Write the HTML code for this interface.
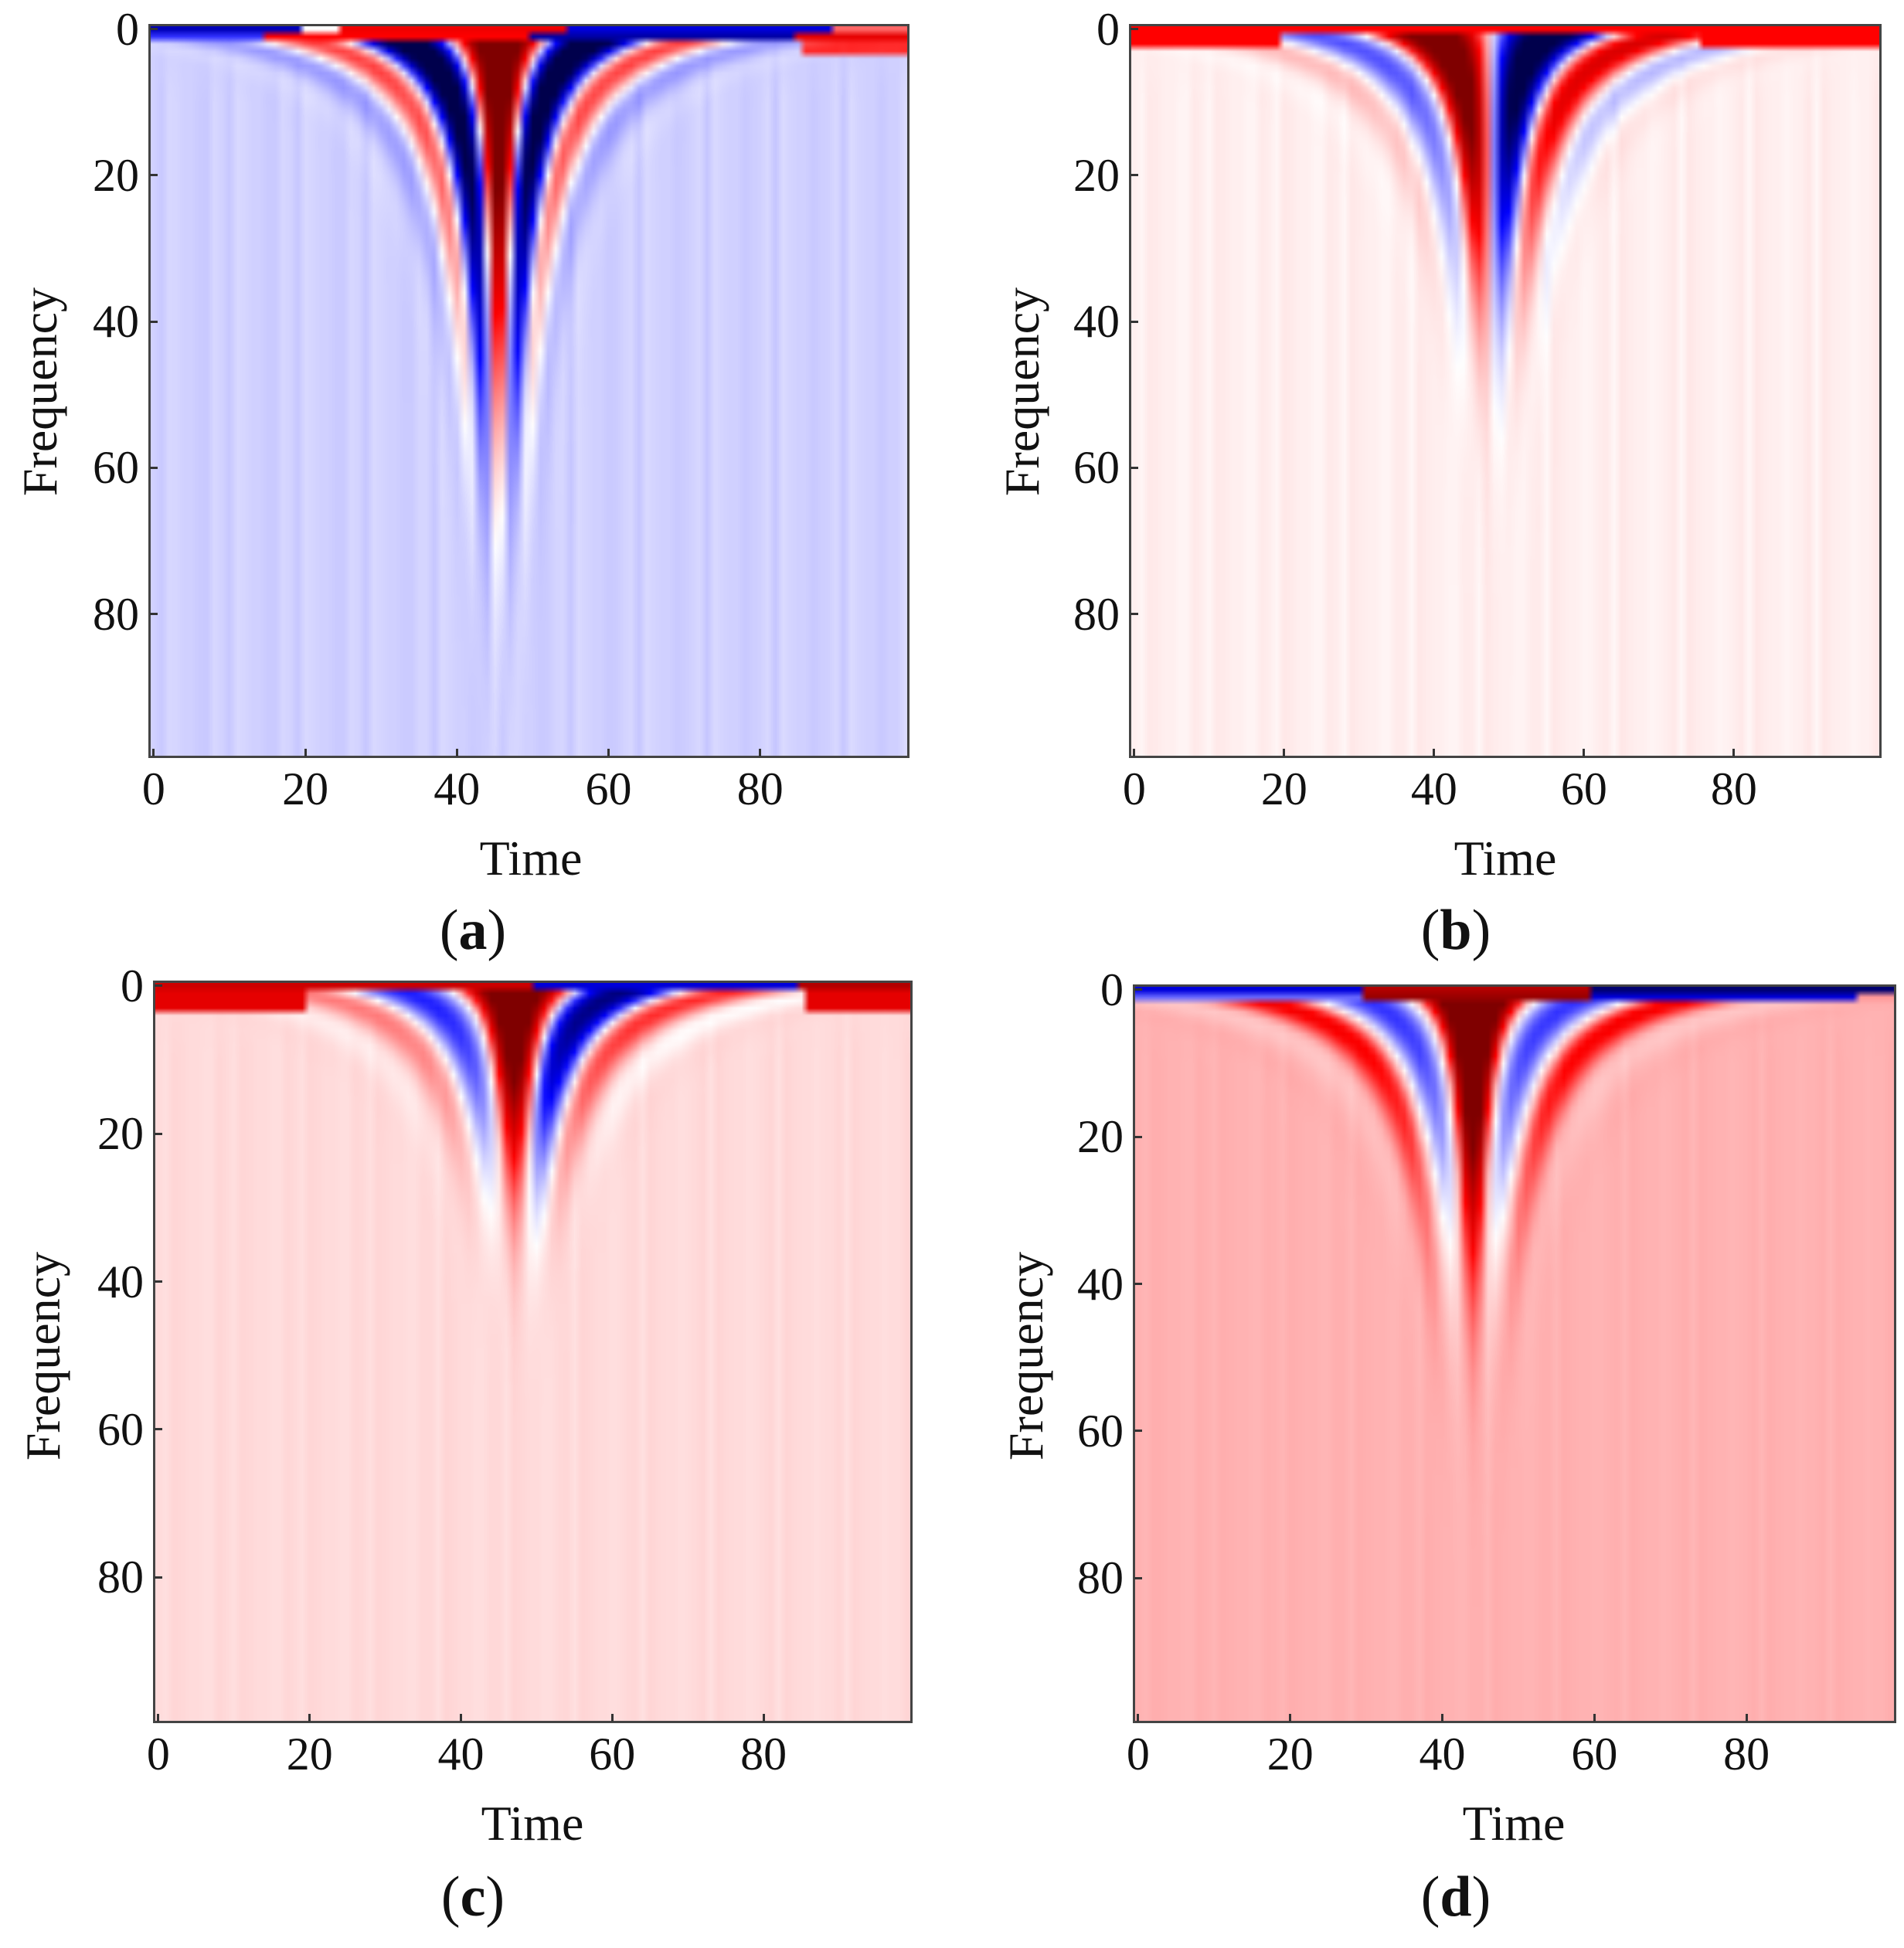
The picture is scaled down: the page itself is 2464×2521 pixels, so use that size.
<!DOCTYPE html>
<html><head><meta charset="utf-8">
<style>
html,body{margin:0;padding:0;background:#fff;}
body{width:2464px;height:2521px;position:relative;overflow:hidden;font-family:"Liberation Serif",serif;color:#111;}
.pl{position:absolute;left:0;top:0;width:2464px;height:2521px;}
canvas{position:absolute;}
.frame{position:absolute;border:3px solid #444;box-sizing:border-box;}
.t{position:absolute;font-size:60px;line-height:1;white-space:nowrap;}
.lab{position:absolute;font-size:64px;line-height:1;white-space:nowrap;transform:translate(-50%,-50%);}
.cap{position:absolute;font-size:74px;line-height:1;white-space:nowrap;transform:translate(-50%,-50%);}
.tk{position:absolute;background:#333;}
</style></head><body>

<div class="pl" id="pa" data-l="194" data-t="33" data-r="1175" data-b="979">
 <span class="t x">0</span><span class="t x">20</span><span class="t x">40</span><span class="t x">60</span><span class="t x">80</span>
 <span class="t y">0</span><span class="t y">20</span><span class="t y">40</span><span class="t y">60</span><span class="t y">80</span>
</div>
<div class="pl" id="pb" data-l="1463" data-t="33" data-r="2433" data-b="979">
 <span class="t x">0</span><span class="t x">20</span><span class="t x">40</span><span class="t x">60</span><span class="t x">80</span>
 <span class="t y">0</span><span class="t y">20</span><span class="t y">40</span><span class="t y">60</span><span class="t y">80</span>
</div>
<div class="pl" id="pc" data-l="200" data-t="1271" data-r="1179" data-b="2228">
 <span class="t x">0</span><span class="t x">20</span><span class="t x">40</span><span class="t x">60</span><span class="t x">80</span>
 <span class="t y">0</span><span class="t y">20</span><span class="t y">40</span><span class="t y">60</span><span class="t y">80</span>
</div>
<div class="pl" id="pd" data-l="1468" data-t="1276" data-r="2452" data-b="2228">
 <span class="t x">0</span><span class="t x">20</span><span class="t x">40</span><span class="t x">60</span><span class="t x">80</span>
 <span class="t y">0</span><span class="t y">20</span><span class="t y">40</span><span class="t y">60</span><span class="t y">80</span>
</div>

<div class="lab" style="left:687px;top:1111px">Time</div>
<div class="lab" style="left:1948px;top:1111px">Time</div>
<div class="lab" style="left:689px;top:2360px">Time</div>
<div class="lab" style="left:1959px;top:2360px">Time</div>
<div class="lab" style="left:52px;top:507px;transform:translate(-50%,-50%) rotate(-90deg)">Frequency</div>
<div class="lab" style="left:1323px;top:507px;transform:translate(-50%,-50%) rotate(-90deg)">Frequency</div>
<div class="lab" style="left:56px;top:1755px;transform:translate(-50%,-50%) rotate(-90deg)">Frequency</div>
<div class="lab" style="left:1328px;top:1755px;transform:translate(-50%,-50%) rotate(-90deg)">Frequency</div>
<div class="cap" style="left:612px;top:1204px">(<b>a</b>)</div>
<div class="cap" style="left:1884px;top:1204px">(<b>b</b>)</div>
<div class="cap" style="left:612px;top:2455px">(<b>c</b>)</div>
<div class="cap" style="left:1884px;top:2455px">(<b>d</b>)</div>

<script>
function seismic(v){
  if(v<-1)v=-1; if(v>1)v=1;
  var r,g,b,t;
  if(v<-0.5){t=(v+1)/0.5;r=0;g=0;b=0.3+0.7*t;}
  else if(v<0){t=(v+0.5)/0.5;r=t;g=t;b=1;}
  else if(v<0.5){t=v/0.5;r=1;g=1-t;b=1-t;}
  else{t=(v-0.5)/0.5;r=1-0.5*t;g=0;b=0;}
  return [r*255|0,g*255|0,b*255|0];
}
function stripes(t,f){return 0.02*Math.sin(t*2.1+Math.sin(t*0.7)*3)*Math.min(1,f/10);}
var fields={
 pa:function(t,f){
   var bg=-0.09, t0=45.5, w=40/Math.pow(f+3,0.72), d=t-t0;
   var A=1.5*Math.exp(-Math.pow(f/45,2));
   var v=bg+A*Math.cos(Math.PI*d/w)*Math.exp(-Math.pow(d/(1.8*w),2))+stripes(t,f);
   if(f<1){v= t<20?-0.7: t<25?0: t<55?0.55: t<90?-0.6:0.3;}
   else if(f<2){v= t<15?-0.4: t<50?0.5: t<85?-0.75:0.6;}
   else if(f<4){v+= (t>85?0.5:0);}
   return v;
 },
 pb:function(t,f){
   var bg=0.03, t0=47.5, w=44/Math.pow(f+3,0.72), d=t-t0;
   var A=1.3*Math.exp(-Math.pow(f/30,2));
   var s=-Math.sin(Math.PI*d/w);
   if(d<-w) s*=0.6;
   var v=bg+A*s*Math.exp(-Math.pow(d/(1.7*w),2))+stripes(t,f)*0.8;
   if(f<1){v=0.5;} else if(f<3){v=(t<20||t>75)?0.5:v;}
   return v;
 },
 pc:function(t,f){
   var bg=0.07, t0=47, w=40/Math.pow(f+3,0.72), d=t-t0;
   var A=1.3*Math.exp(-Math.pow(f/22,2));
   var c=Math.cos(Math.PI*d/w); if(d<-0.5*w) c*=0.55;
   var v=bg+A*c*Math.exp(-Math.pow(d/(1.7*w),2))+stripes(t,f)*0.6;
   if(f<1){v= t<50?0.7: t<85?-0.6:0.8;}
   else if(f<4){v= (t<20||t>85)?0.6:v;}
   return v;
 },
 pd:function(t,f){
   var bg=0.15, t0=44, w=44/Math.pow(f+3,0.72), d=t-t0;
   var A=1.1*Math.exp(-Math.pow(f/30,2));
   var c=Math.cos(Math.PI*d/w)*Math.exp(-Math.pow(d/(1.7*w),2));
   var v=bg+A*(c>0?c*1.3:c*0.7)+stripes(t,f)*0.5;
   if(f<1){v= t<30?-0.6: t<60?0.8:-0.9;}
   else if(f<2){v= t<30?-0.3: t<60?0.9: t<95?-0.6:0.2;}
   return v;
 }
};
["pa","pb","pc","pd"].forEach(function(id){
  var el=document.getElementById(id);
  var L=+el.dataset.l,T=+el.dataset.t,R=+el.dataset.r,B=+el.dataset.b;
  var sx=(R-L)/100, sy=(B-T)/100;
  var cv=document.createElement('canvas');cv.width=100;cv.height=100;
  var ctx=cv.getContext('2d');var img=ctx.createImageData(100,100);
  for(var f=0;f<100;f++)for(var t=0;t<100;t++){
    var c=seismic(fields[id](t,f));var k=(f*100+t)*4;
    img.data[k]=c[0];img.data[k+1]=c[1];img.data[k+2]=c[2];img.data[k+3]=255;
  }
  ctx.putImageData(img,0,0);
  var big=document.createElement('canvas');big.width=R-L;big.height=B-T;
  big.style.left=L+'px';big.style.top=T+'px';
  var bc=big.getContext('2d');bc.imageSmoothingEnabled=true;bc.drawImage(cv,0,0,R-L,B-T);
  document.body.appendChild(big);
  var fr=document.createElement('div');fr.className='frame';
  fr.style.cssText='left:'+(L-2)+'px;top:'+(T-2)+'px;width:'+(R-L+4)+'px;height:'+(B-T+4)+'px';
  document.body.appendChild(fr);
  var xs=el.querySelectorAll('.x'), ys=el.querySelectorAll('.y');
  for(var i=0;i<5;i++){
    var xp=L+(i*20+0.5)*sx;
    xs[i].style.left=(xp)+'px';xs[i].style.top=(B+12)+'px';xs[i].style.transform='translateX(-50%)';
    var yp=T+(i*20+0.5)*sy;
    ys[i].style.left=(L-14)+'px';ys[i].style.top=(yp)+'px';ys[i].style.transform='translate(-100%,-50%)';
    var tk=document.createElement('div');tk.className='tk';
    tk.style.cssText='left:'+(xp-1.5)+'px;top:'+(B-10)+'px;width:3px;height:10px';
    document.body.appendChild(tk);
    var tk2=document.createElement('div');tk2.className='tk';
    tk2.style.cssText='left:'+L+'px;top:'+(yp-1.5)+'px;width:10px;height:3px';
    document.body.appendChild(tk2);
  }
});
</script>
</body></html>
